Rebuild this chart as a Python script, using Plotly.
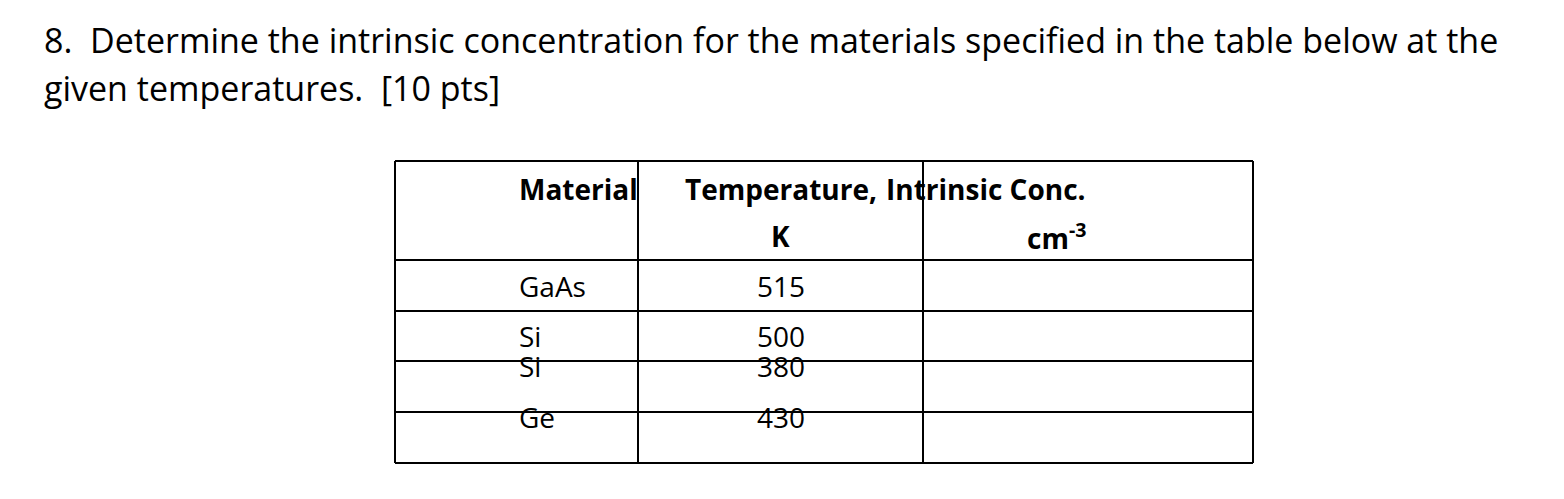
import plotly.graph_objects as go

materials = ['GaAs', 'Si', 'Si', 'Ge']
temps = ['515', '500', '380', '430']
conc = ['', '', '', '']
header_line1 = ['<b>Material</b>', '<b>Temperature,</b>', '<b>Intrinsic Conc.</b>']
header_line2 = ['', '<b>K</b>', '<b>cm<sup>-3</sup></b>']

W, H = 1564, 499
col_edges = [387, 630, 915, 1245]
row_edges = [153, 252, 303, 353, 404, 455]
FONT = dict(family='Open Sans', size=28, color='black')

fig = go.Figure()

def px_x(v):
    return v / W

def px_y(v):
    return 1 - v / H

# grid lines
for x in col_edges:
    fig.add_shape(type='line', xref='paper', yref='paper', x0=px_x(x), x1=px_x(x),
                  y0=px_y(row_edges[0]), y1=px_y(row_edges[-1]), line=dict(color='black', width=2))
for y in row_edges:
    fig.add_shape(type='line', xref='paper', yref='paper', x0=px_x(col_edges[0]), x1=px_x(col_edges[-1]),
                  y0=px_y(y), y1=px_y(y), line=dict(color='black', width=2))

centers = [(col_edges[i] + col_edges[i+1]) / 2 for i in range(3)]

for c, t1, t2 in zip(centers, header_line1, header_line2):
    fig.add_annotation(text=t1, x=px_x(c), y=px_y(181), xref='paper', yref='paper',
                       showarrow=False, font=FONT)
    if t2:
        fig.add_annotation(text=t2, x=px_x(c), y=px_y(228), xref='paper', yref='paper',
                           showarrow=False, font=FONT)

for col, c in zip([materials, temps, conc], centers):
    for i, v in enumerate(col):
        if v:
            yc = (row_edges[i+1] + row_edges[i+2]) / 2
            fig.add_annotation(text=v, x=px_x(c), y=px_y(yc), xref='paper', yref='paper',
                               showarrow=False, font=FONT)

fig.add_annotation(text='8.  Determine the intrinsic concentration for the materials specified in the table below at the',
                   x=px_x(34), y=px_y(32), xref='paper', yref='paper', xanchor='left', yanchor='middle',
                   showarrow=False, font=dict(family='Open Sans', size=34, color='black'))
fig.add_annotation(text='given temperatures.  [10 pts]',
                   x=px_x(34), y=px_y(80), xref='paper', yref='paper', xanchor='left', yanchor='middle',
                   showarrow=False, font=dict(family='Open Sans', size=34, color='black'))

fig.update_xaxes(visible=False)
fig.update_yaxes(visible=False)
fig.update_layout(width=W, height=H, margin=dict(l=0, r=0, t=0, b=0),
                  paper_bgcolor='white', plot_bgcolor='white')
fig.write_html('out.html')
